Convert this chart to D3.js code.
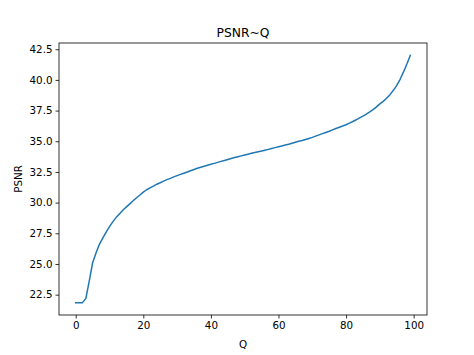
<!DOCTYPE html>
<html>
<head>
<meta charset="utf-8">
<script src="https://cdn.jsdelivr.net/npm/d3@7"></script>
<style>
  body { margin: 0; background: #fff; }
  text { font-family: "DejaVu Sans", sans-serif; fill: #000; }
</style>
</head>
<body>
<script>
// set dimensions
var width = 474;
var height = 355;
var margin = {top: 43, right: 47, bottom: 40, left: 59};

// data
var quality = d3.range(0, 100);
var psnr = [
  21.85, 21.85, 21.85, 22.2, 23.6, 25.1, 25.9, 26.6, 27.1, 27.6,
  28.05, 28.45, 28.8, 29.1, 29.4, 29.65, 29.9, 30.15, 30.4, 30.62,
  30.85, 31.05, 31.2, 31.35, 31.5, 31.62, 31.75, 31.87, 31.98, 32.1,
  32.2, 32.3, 32.4, 32.5, 32.6, 32.7, 32.8, 32.88, 32.96, 33.04,
  33.12, 33.2, 33.28, 33.36, 33.44, 33.52, 33.6, 33.67, 33.74, 33.81,
  33.88, 33.95, 34.02, 34.08, 34.14, 34.2, 34.27, 34.34, 34.41, 34.48,
  34.55, 34.62, 34.69, 34.76, 34.84, 34.92, 35.0, 35.06, 35.14, 35.23,
  35.32, 35.42, 35.52, 35.62, 35.72, 35.82, 35.93, 36.04, 36.14, 36.24,
  36.35, 36.48, 36.61, 36.75, 36.9, 37.05, 37.21, 37.39, 37.58, 37.8,
  38.05, 38.25, 38.5, 38.8, 39.15, 39.55, 40.05, 40.65, 41.3, 42.0
];
var xTicks = [0, 20, 40, 60, 80, 100];
var yTicks = [22.5, 25.0, 27.5, 30.0, 32.5, 35.0, 37.5, 40.0, 42.5];

var data = quality.map(function(q, i) { return {q: q, p: psnr[i]}; });

// create SVG
var svg = d3.select("body")
    .append("svg")
    .attr("width", width)
    .attr("height", height);

// scales (matplotlib style 5% margins)
var xPad = (d3.max(quality) - d3.min(quality)) * 0.05;
var yPad = (d3.max(psnr) - d3.min(psnr)) * 0.05;

var xScale = d3.scaleLinear()
    .domain([d3.min(quality) - xPad, d3.max(quality) + xPad])
    .range([margin.left, width - margin.right]);

var yScale = d3.scaleLinear()
    .domain([d3.min(psnr) - yPad, d3.max(psnr) + yPad])
    .range([height - margin.bottom, margin.top]);

// line
var line = d3.line()
    .x(d => xScale(d.q))
    .y(d => yScale(d.p));

svg.append("path")
    .datum(data)
    .attr("fill", "none")
    .attr("stroke", "#1f77b4")
    .attr("stroke-width", 1.5)
    .attr("stroke-linejoin", "round")
    .attr("stroke-linecap", "square")
    .attr("d", line);

// axes
var xAxis = d3.axisBottom(xScale)
    .tickValues(xTicks)
    .tickFormat(d3.format("d"))
    .tickSize(3.5)
    .tickPadding(3);

var yAxis = d3.axisLeft(yScale)
    .tickValues(yTicks)
    .tickFormat(d3.format(".1f"))
    .tickSize(3.5)
    .tickPadding(3);

var gx = svg.append("g")
    .attr("transform", `translate(0, ${height - margin.bottom})`)
    .call(xAxis);

var gy = svg.append("g")
    .attr("transform", `translate(${margin.left}, 0)`)
    .call(yAxis);

[gx, gy].forEach(function(g) {
    g.select(".domain").remove();
    g.selectAll("line").attr("stroke", "#000").attr("stroke-width", 0.8);
    g.selectAll("text").attr("font-size", "10.3px").attr("font-family", "DejaVu Sans").attr("fill", "#000");
});

// frame
svg.append("rect")
    .attr("x", margin.left)
    .attr("y", margin.top)
    .attr("width", width - margin.left - margin.right)
    .attr("height", height - margin.top - margin.bottom)
    .attr("fill", "none")
    .attr("stroke", "#000")
    .attr("stroke-width", 0.8);

// title and labels
svg.append("text")
    .attr("x", (margin.left + width - margin.right) / 2)
    .attr("y", margin.top - 6)
    .attr("text-anchor", "middle")
    .attr("font-size", "12.3px")
    .text("PSNR~Q");

svg.append("text")
    .attr("x", (margin.left + width - margin.right) / 2)
    .attr("y", height - 7)
    .attr("text-anchor", "middle")
    .attr("font-size", "10.3px")
    .text("Q");

svg.append("text")
    .attr("transform", `translate(22, ${(margin.top + height - margin.bottom) / 2}) rotate(-90)`)
    .attr("text-anchor", "middle")
    .attr("font-size", "10.3px")
    .text("PSNR");
</script>
</body>
</html>
